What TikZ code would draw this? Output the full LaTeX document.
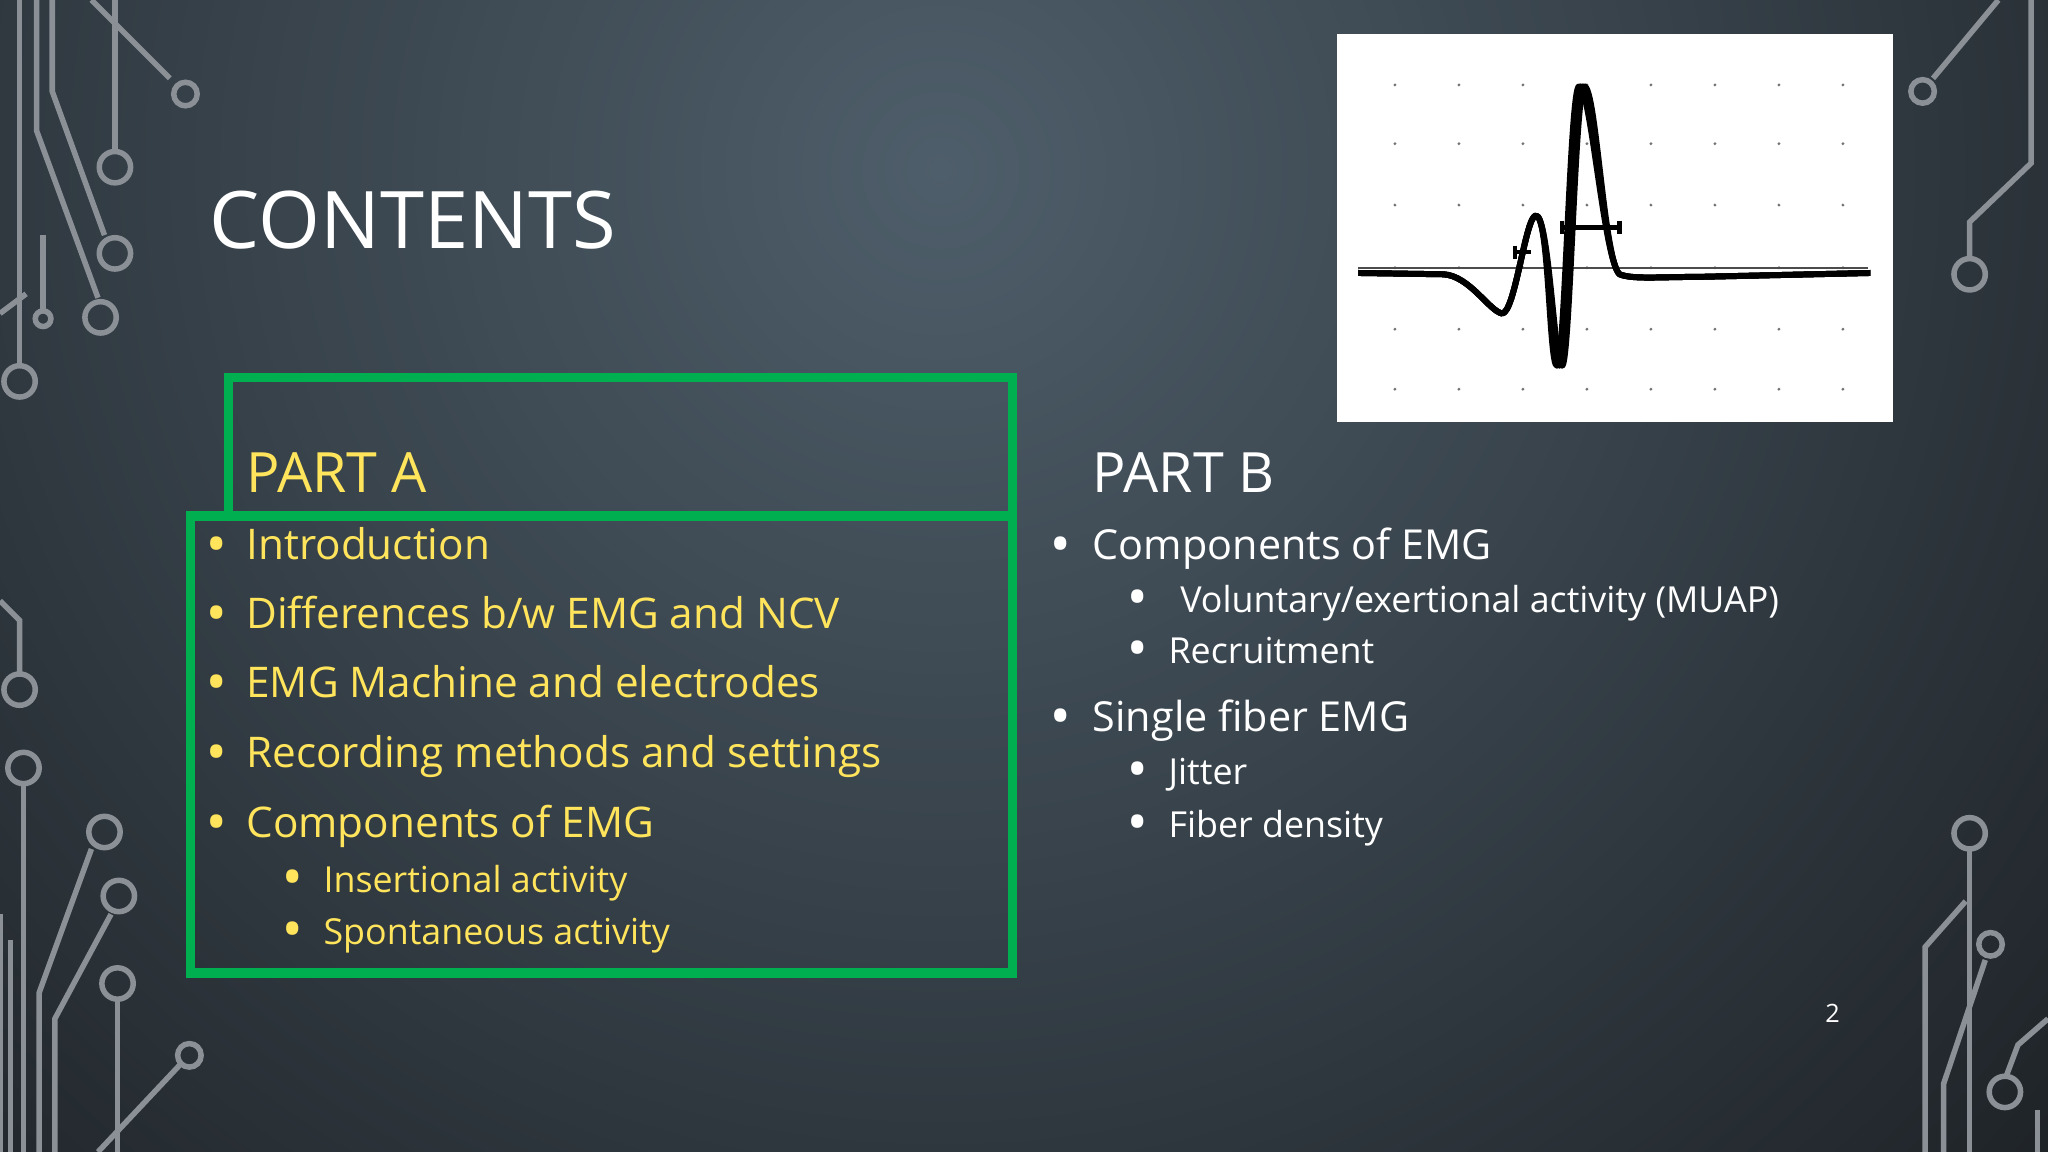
\documentclass[tikz,border=0pt]{standalone}
\usepackage{fontspec}
\setmainfont{Open Sans}
\definecolor{grn}{HTML}{00B050}
\definecolor{yel}{HTML}{FFE45C}
\definecolor{bgc}{HTML}{4E5E6A}
\definecolor{bge}{HTML}{1C2024}
\definecolor{circ}{HTML}{8A9096}
\begin{document}
\begin{tikzpicture}[x=0.01cm,y=-0.01cm,
 ya/.style={anchor=base west,inner sep=0pt,text=yel,font=\fontsize{9.2pt}{11pt}\selectfont},
 yb/.style={anchor=base west,inner sep=0pt,text=yel,font=\fontsize{7.8pt}{10pt}\selectfont},
 wa/.style={anchor=base west,inner sep=0pt,text=white,font=\fontsize{9pt}{11pt}\selectfont},
 wb/.style={anchor=base west,inner sep=0pt,text=white,font=\fontsize{7.8pt}{10pt}\selectfont},
 bu/.style={font=\bfseries\fontsize{9.5pt}{11pt}\selectfont},
 ci/.style={draw=circ,line width=1.2pt}]
\useasboundingbox (0,0) rectangle (1568,882);
\fill[bge] (0,0) rectangle (1568,882);
\begin{scope}
\clip (0,0) rectangle (1568,882);
\shade[inner color=bgc,outer color=bge] (720,130) circle (1200);
\end{scope}
% circuit lines left
\begin{scope}[ci]
\draw (15,0)--(15,230)--(15,280); \draw (15,292) circle (12);
\draw (28,0)--(28,100)--(75,228); \draw (77,243) circle (12);
\draw (40,0)--(40,70)--(80,180); \draw (88,194) circle (12);
\draw (88,0)--(88,115); \draw (88,128) circle (12);
\draw (70,0)--(130,60); \draw (142,72) circle (9);
\draw (33,180)--(33,238); \draw (33,244) circle (6);
\draw (0,240)--(20,225);
\draw (0,460)--(15,475)--(15,515); \draw (15,528) circle (12);
\draw (18,600)--(18,882); \draw (18,588) circle (12);
\draw (0,700)--(0,882); \draw (30,882)--(30,760)--(70,650); \draw (80,637) circle (12);
\draw (42,882)--(42,780)--(85,700); \draw (91,686) circle (12);
\draw (90,766)--(90,882); \draw (90,753) circle (12);
\draw (75,882)--(138,815); \draw (145,808) circle (9);
\draw (8,720)--(8,882);
% right
\draw (1530,0)--(1480,60); \draw (1472,70) circle (9);
\draw (1555,0)--(1555,125)--(1508,170)--(1508,198); \draw (1508,210) circle (12);
\draw (1508,882)--(1508,700)--(1508,650); \draw (1508,638) circle (12);
\draw (1474,882)--(1474,725)--(1505,690);
\draw (1488,882)--(1488,830)--(1520,735); \draw (1524,723) circle (9);
\draw (1536,824)--(1545,800)--(1568,780); \draw (1535,836) circle (12);
\draw (1560,882)--(1560,850);
\end{scope}
% title
\node[anchor=base west,inner sep=0pt,text=white,font=\fontsize{17.3pt}{20pt}\selectfont] (title) at (160,190) {CONTENTS};
% green boxes
\draw[grn,line width=2pt] (175,392)--(175,289)--(775,289)--(775,745)--(146,745)--(146,395)--(775,395);
% Part A
\node[anchor=base west,inner sep=0pt,text=yel,font=\fontsize{12.1pt}{15pt}\selectfont] (pa) at (188,377) {PART A};
\foreach \y/\t [count=\i] in {428/{Introduction},481/{Differences b/w EMG and NCV},534/{EMG Machine and electrodes},588/{Recording methods and settings},641/{Components of EMG}}{
 \node[ya,bu] (ab\i) at (159,\y) {•};
 \node[ya] (a\i) at (188,\y) {\t};}
\node[yb,bu] (sb1) at (217,683) {•}; \node[yb] (s1) at (247,683) {Insertional activity};
\node[yb,bu] (sb2) at (217,723) {•}; \node[yb] (s2) at (247,723) {Spontaneous activity};
% Part B
\node[anchor=base west,inner sep=0pt,text=white,font=\fontsize{12.1pt}{15pt}\selectfont] (pb) at (836,377) {PART B};
\node[wa,bu] (bb1) at (805,428) {•}; \node[wa] (b1) at (836,428) {Components of EMG};
\node[wb,bu] (cb1) at (864,469) {•}; \node[wb] (c1) at (903,469) {Voluntary/exertional activity (MUAP)};
\node[wb,bu] (cb2) at (864,508) {•}; \node[wb] (c2) at (894,508) {Recruitment};
\node[wa,bu] (bb2) at (805,560) {•}; \node[wa] (b2) at (836,560) {Single fiber EMG};
\node[wb,bu] (cb3) at (864,601) {•}; \node[wb] (c3) at (894,601) {Jitter};
\node[wb,bu] (cb4) at (864,641) {•}; \node[wb] (c4) at (894,641) {Fiber density};
\node[anchor=base,inner sep=0pt,text=white,font=\fontsize{5.5pt}{7pt}\selectfont] (pg) at (1403,783) {2};
% waveform picture
\fill[white] (1024,26) rectangle (1449,323);
\foreach \x in {1068,1117,1166,1215,1264,1313,1362,1411}
 \foreach \y in {65,110,157,205,252,298} \fill[black!55] (\x,\y) circle (1.2);
\draw[black!70,line width=0.5pt] (1040,205)--(1430,205);
\foreach \o in {-2,0,2}{
\draw[black,line width=1.3pt,line join=round]
 (1040,209) -- (1105,210) .. controls (1125,211) and (1140,238) .. (1150,240)
 .. controls (1160,240) and (1168,165) .. (1176,165)
 .. controls (1186,165) and (1188+\o,280) .. (1194+\o,280)
 .. controls (1200+\o,280) and (1204+\o,66) .. (1211+\o,66)
 .. controls (1220+\o,66) and (1228,200) .. (1240,210)
 .. controls (1250,214) and (1270,212) .. (1300,212) -- (1432,209);}
\draw[black,line width=1pt] (1160,193)--(1172,193) (1160,188)--(1160,198);
\draw[black,line width=1pt] (1196,174)--(1240,174) (1196,169)--(1196,179) (1240,169)--(1240,179);
\end{tikzpicture}
\end{document}
